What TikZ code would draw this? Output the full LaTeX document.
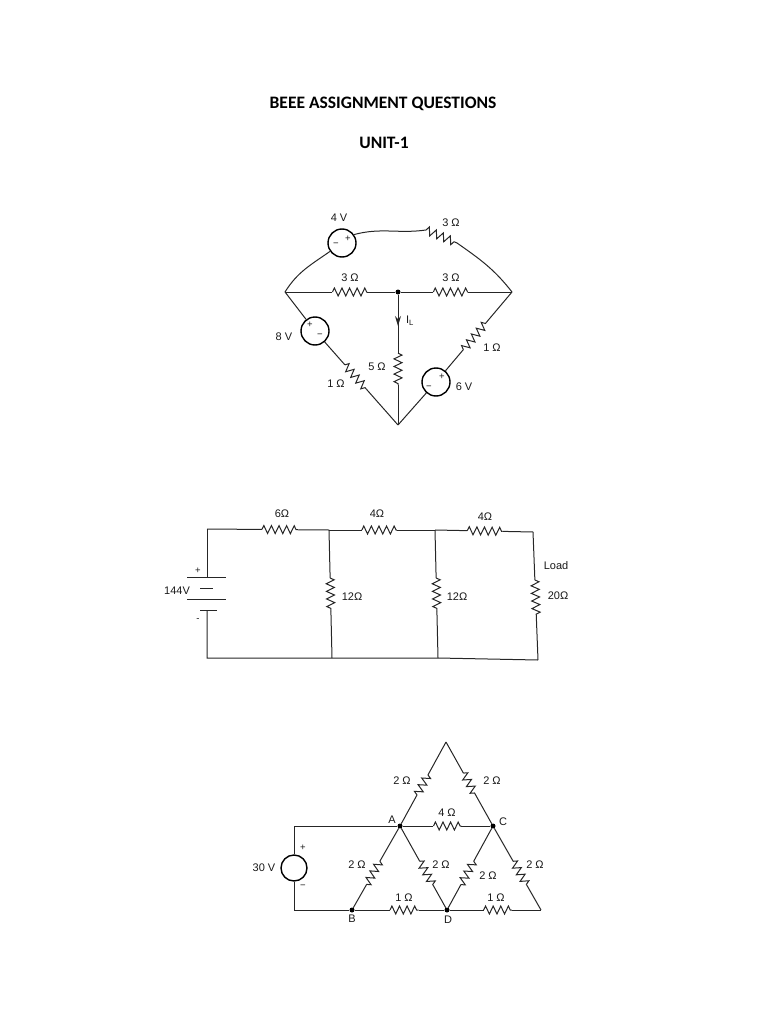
\documentclass[tikz,border=0pt]{standalone}
\usepackage{fontspec}
\setmainfont{Liberation Sans}
\newfontfamily\titlefont{Carlito}
\usetikzlibrary{calc, arrows.meta, decorations.pathmorphing}

\tikzset{
    wire/.style={line width=1pt, black!85},
    zig/.style={wire, decorate, decoration={zigzag, amplitude=4pt, segment length=7.6pt}},
    src/.style={circle, draw, line width=1.4pt, minimum size=28pt, inner sep=0pt},
    dot/.style={circle, fill=black, minimum size=5pt, inner sep=0pt},
    lbl/.style={inner sep=0pt, font=\fontsize{11}{13}\selectfont, black!90},
    sgn/.style={inner sep=0pt, font=\fontsize{9.5}{11}\selectfont, black!90},
    ttl/.style={inner sep=0pt, font=\titlefont\bfseries\fontsize{17.5}{20}\selectfont}
}

\newcommand{\resline}[4]{
    \draw[wire] (#1) -- ($(#1.center)!#3!(#2.center)$);
    \draw[zig] ($(#1.center)!#3!(#2.center)$) -- ($(#1.center)!#4!(#2.center)$);
    \draw[wire] ($(#1.center)!#4!(#2.center)$) -- (#2);
}

\begin{document}
\begin{tikzpicture}[x=1pt, y=-1pt]
    \useasboundingbox (0,0) rectangle (768,1024);

    \node[ttl] (title) at (383,104) {BEEE ASSIGNMENT QUESTIONS};
    \node[ttl] (unit) at (384,143) {UNIT-1};

    \coordinate (L) at (285,292);
    \coordinate (R) at (512,292);
    \coordinate (bot) at (398,425);
    \coordinate (topa) at (426,230);
    \coordinate (topb) at (457,243);
    \coordinate (tip) at (398,326);
    \node[dot] (J) at (398,292) {};
    \node[src] (v4) at (342,243) {};
    \node[src] (v8) at (315,331) {};
    \node[src] (v6) at (436,382) {};

    \draw[wire] (L) to[out=58,in=215] (v4.215);
    \draw[wire] (v4.35) to[out=15,in=188] (topa);
    \draw[zig] (topa) -- (topb);
    \draw[wire] (topb) to[out=-35,in=128] (R);
    \resline{L}{J}{.42}{.73}
    \resline{J}{R}{.31}{.61}
    \draw[wire] (L) -- (v8);
    \resline{v8}{bot}{.36}{.62}
    \resline{J}{bot}{.46}{.70}
    \resline{v6}{R}{.36}{.67}
    \draw[wire] (v6) -- (bot);
    \draw[wire, -{Stealth[length=10pt, width=6pt]}] (J) -- (tip);

    \node[lbl] (l4v) at (339,218) {4 V};
    \node[lbl] (lr3t) at (451,223) {3 Ω};
    \node[lbl] (lr3a) at (350,278) {3 Ω};
    \node[lbl] (lr3b) at (451,278) {3 Ω};
    \node[lbl] (lil) at (410,321) {I\textsubscript{L}};
    \node[lbl] (l8v) at (284,337) {8 V};
    \node[lbl] (lr1a) at (336,384) {1 Ω};
    \node[lbl] (lr5) at (377,367) {5 Ω};
    \node[lbl] (l6v) at (464,387) {6 V};
    \node[lbl] (lr1b) at (492,348) {1 Ω};
    \node[sgn] (m4) at (336,245) {−};
    \node[sgn] (p4) at (348,239) {+};
    \node[sgn] (p8) at (310,325) {+};
    \node[sgn] (m8) at (320,336) {−};
    \node[sgn] (p6) at (442,377) {+};
    \node[sgn] (m6) at (429,388) {−};

    \coordinate (tl) at (207,529);
    \coordinate (bl) at (207,658);
    \coordinate (tr) at (533,532);
    \coordinate (br) at (538,660);
    \coordinate (ja) at (329,530);
    \coordinate (jb) at (435,530);
    \coordinate (ka) at (332,658);
    \coordinate (kb) at (438,658);
    \coordinate (pa) at (207,577);
    \coordinate (pb) at (207,610);

    \draw[wire] (pa) -- (tl);
    \resline{tl}{ja}{.45}{.75}
    \resline{ja}{jb}{.31}{.64}
    \resline{jb}{tr}{.33}{.69}
    \resline{ja}{ka}{.375}{.64}
    \resline{jb}{kb}{.375}{.64}
    \resline{tr}{br}{.375}{.65}
    \draw[wire] (pb) -- (bl) -- (ka) -- (kb) -- (br);
    \draw[wire] (187,577) -- (226,577);
    \draw[wire] (200,588) -- (213,588);
    \draw[wire] (187,599) -- (226,599);
    \draw[wire] (200,610) -- (217,610);

    \node[lbl] (l6) at (282,514) {6Ω};
    \node[lbl] (l4a) at (377,514) {4Ω};
    \node[lbl] (l4b) at (485,517) {4Ω};
    \node[lbl] (l12a) at (352,597) {12Ω};
    \node[lbl] (l12b) at (457,597) {12Ω};
    \node[lbl] (lload) at (556,566) {Load};
    \node[lbl] (l20) at (558,596) {20Ω};
    \node[lbl] (l144) at (177,591) {144V};
    \node[sgn] (pb1) at (198,571) {+};
    \node[sgn] (mb1) at (198,620) {-};

    \coordinate (T) at (446,742);
    \coordinate (E) at (541,910);
    \node[dot] (A) at (400,826) {};
    \node[dot] (C) at (493,826) {};
    \node[dot] (B) at (352,910) {};
    \node[dot] (D) at (447,910) {};
    \coordinate (wa) at (294,826);
    \coordinate (wb) at (294,910);
    \node[src, minimum size=26pt] (v30) at (294,868) {};

    \resline{A}{T}{.37}{.63}
    \resline{T}{C}{.37}{.63}
    \resline{A}{C}{.36}{.66}
    \resline{A}{B}{.42}{.70}
    \resline{A}{D}{.42}{.70}
    \resline{C}{D}{.42}{.70}
    \resline{C}{E}{.42}{.70}
    \resline{B}{D}{.40}{.70}
    \resline{D}{E}{.39}{.69}
    \draw[wire] (A) -- (wa) -- (v30);
    \draw[wire] (v30) -- (wb) -- (B);

    \node[lbl] (l2a) at (402,781) {2 Ω};
    \node[lbl] (l2b) at (492,781) {2 Ω};
    \node[lbl] (l4c) at (447,813) {4 Ω};
    \node[lbl] (lA) at (392,820) {A};
    \node[lbl] (lC) at (503,822) {C};
    \node[lbl] (l30) at (264,868) {30 V};
    \node[lbl] (l2c) at (357,865) {2 Ω};
    \node[lbl] (l2d) at (441,865) {2 Ω};
    \node[lbl] (l2e) at (488,876) {2 Ω};
    \node[lbl] (l2f) at (535,865) {2 Ω};
    \node[lbl] (l1a) at (404,898) {1 Ω};
    \node[lbl] (l1b) at (496,898) {1 Ω};
    \node[lbl] (lB) at (352,919) {B};
    \node[lbl] (lD) at (448,920) {D};
    \node[sgn] (p30) at (303,848) {+};
    \node[sgn] (m30) at (303,887) {−};
\end{tikzpicture}
\end{document}
